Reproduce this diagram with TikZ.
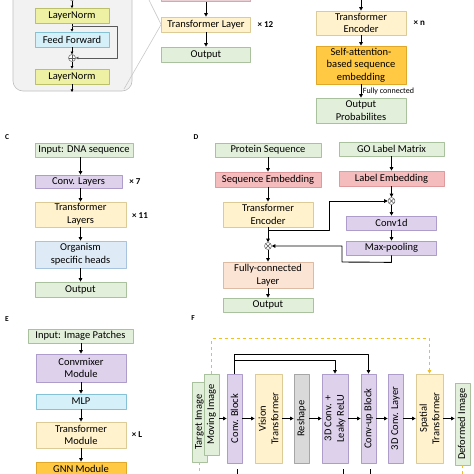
\documentclass[tikz,border=0pt]{standalone}
\usepackage{fontspec}
\setmainfont{Carlito}
\usepackage{tikz}
\usetikzlibrary{arrows.meta,positioning}
\definecolor{nnGreen}{HTML}{E2EFDA}
\definecolor{nnGreenLine}{HTML}{A9C19C}
\definecolor{nnRed}{HTML}{F5BCBD}
\definecolor{nnRedLine}{HTML}{DE9A9C}
\definecolor{nnRose}{HTML}{EAD1D5}
\definecolor{nnRoseLine}{HTML}{D0AAB1}
\definecolor{nnYellow}{HTML}{FFF2CC}
\definecolor{nnYellowLine}{HTML}{DCCB97}
\definecolor{nnOrange}{HTML}{FFC944}
\definecolor{nnOrangeLine}{HTML}{E0A82A}
\definecolor{nnPurple}{HTML}{DDD1EC}
\definecolor{nnPurpleLine}{HTML}{AE9DCB}
\definecolor{nnBlue}{HTML}{DEEBF7}
\definecolor{nnBlueLine}{HTML}{A8C3DE}
\definecolor{nnCyan}{HTML}{D5F0F9}
\definecolor{nnCyanLine}{HTML}{86C2D6}
\definecolor{nnLime}{HTML}{EEF1A3}
\definecolor{nnLimeLine}{HTML}{BCC06A}
\definecolor{nnGrey}{HTML}{D9D9D9}
\definecolor{nnGreyLine}{HTML}{A6A6A6}
\definecolor{nnPeach}{HTML}{FCE4D4}
\definecolor{nnPeachLine}{HTML}{DDBBA2}
\definecolor{nnPanel}{HTML}{F2F2F2}
\definecolor{nnPanelLine}{HTML}{BFBFBF}
\definecolor{nnZoom}{HTML}{C8C8C8}
\definecolor{nnResid}{HTML}{595959}
\definecolor{nnGuide}{HTML}{F0C020}
\tikzset{
  nn diagram/.style={font=\fontsize{10.5}{12.6}\selectfont, text=black,
    line join=round},
  nn box/.style={draw, line width=0.7pt, align=center, inner sep=0pt,
    minimum height=15pt},
  nn tone/.style={nn box, fill=nn#1, draw=nn#1Line},
  nn vbox/.style={rotate=90, minimum width=89pt},
  nn arrow/.style={-{Triangle[length=3.6pt,width=3.6pt]}, line width=0.9pt},
  nn thin arrow/.style={-{Triangle[length=2.6pt,width=2.6pt]}, line width=0.6pt},
  nn guide/.style={-{Triangle[length=3.6pt,width=3.6pt]}, draw=nnGuide,
    dashed, line width=0.9pt},
  nn zoom/.style={draw=nnZoom, line width=0.6pt},
  nn op/.style={circle, draw=nnResid, fill=white, minimum size=7pt,
    inner sep=0pt, line width=0.5pt},
  nn add/.style={nn op, path picture={
    \draw[line width=0.4pt] (path picture bounding box.north) -- (path picture bounding box.south)
      (path picture bounding box.west) -- (path picture bounding box.east);}},
  nn mul/.style={nn op, path picture={
    \draw[line width=0.4pt] (path picture bounding box.north west) -- (path picture bounding box.south east)
      (path picture bounding box.north east) -- (path picture bounding box.south west);}},
  nn times/.style={font=\fontsize{9}{10}\selectfont\bfseries, inner sep=0pt},
  nn panel/.style={font=\fontsize{7.5}{8}\selectfont\bfseries, inner sep=0pt},
  nn note/.style={font=\fontsize{8}{9}\selectfont, inner sep=1.5pt}
}
\begin{document}
\begin{tikzpicture}[nn diagram, x=1pt, y=-1pt]
\useasboundingbox (0,0) rectangle (474,474);
\clip (0,0) rectangle (474,474);

% A: encoder layer detail
\draw[draw=nnPanelLine, fill=nnPanel, line width=0.6pt, rounded corners=10pt]
  (13,-20) rectangle (132,91);
\node[nn add] (addTop) at (72,-3) {};
\node[nn tone=Lime, minimum width=74pt] (normA) at (72,16) {LayerNorm};
\node[nn tone=Cyan, minimum width=74pt] (ffA) at (72,39.5) {Feed Forward};
\node[nn add] (addA) at (72,58) {};
\node[nn tone=Lime, minimum width=74pt] (normB) at (72,76.5) {LayerNorm};
\coordinate (outTop) at (72,92);
\coordinate (splitA) at (72,26.5);
\foreach \a/\b in {addTop/normA, normA/ffA, ffA/addA, addA/normB, normB/outTop}
  \draw[nn thin arrow] (\a) -- (\b);
\draw[nn thin arrow, draw=nnResid] (splitA) -| (117,58) -- (addA.east);

\node[nn tone=Rose, minimum width=89pt] (embA) at (206,-6) {};
\node[nn tone=Yellow, minimum width=89pt] (tfLayer) at (206,24.5) {Transformer Layer};
\node[nn times, right=6.5pt of tfLayer] (repA) {× 12};
\node[nn tone=Green, minimum width=89pt] (outA) at (206,54.5) {Output};
\draw[nn arrow] (embA) -- (tfLayer);
\draw[nn arrow] (tfLayer) -- (outA);
\draw[nn zoom] (144,-10) -- (tfLayer.west);
\draw[nn zoom] (124,89) -- (tfLayer.west);

% B
\coordinate (inB) at (361,-2);
\node[nn tone=Yellow, minimum width=90pt, minimum height=24pt] (tfEncB) at (361,23) {Transformer\\Encoder};
\node[nn times, right=7pt of tfEncB] (repB) {× n};
\node[nn tone=Orange, minimum width=90pt, minimum height=38pt] (saEmb) at (361,65) {Self-attention-\\based sequence\\embedding};
\node[nn tone=Green, minimum width=90pt, minimum height=25pt] (outProb) at (361,110.5) {Output\\Probabilites};
\draw[nn arrow] (inB) -- (tfEncB);
\draw[nn arrow] (tfEncB) -- (saEmb);
\draw[nn arrow] (saEmb) -- node[nn note, right] {Fully connected} (outProb);

% C
\node[nn panel] (labC) at (7,137) {C};
\node[nn tone=Green, minimum width=98pt, minimum height=14pt] (inDNA) at (84,150) {Input: DNA sequence};
\node[nn tone=Purple, minimum width=87pt, minimum height=13pt] (convC) at (78.5,181.5) {Conv. Layers};
\node[nn times] (repC1) at (135,182) {× 7};
\node[nn tone=Yellow, minimum width=91pt, minimum height=25pt] (tfC) at (80.5,214.5) {Transformer\\Layers};
\node[nn times] (repC2) at (140,216) {× 11};
\node[nn tone=Blue, minimum width=91pt, minimum height=27pt] (orgC) at (80.5,254.5) {Organism\\specific heads};
\node[nn tone=Green, minimum width=91pt] (outC) at (80.5,289.5) {Output};
\foreach \a/\b in {inDNA/convC, convC/tfC, tfC/orgC, orgC/outC}
  \draw[nn arrow] (\a.south -| tfC) -- (\b.north -| tfC);

% D
\node[nn panel] (labD) at (196,137) {D};
\node[nn tone=Green, minimum width=106pt, minimum height=14pt] (protSeq) at (268,150) {Protein Sequence};
\node[nn tone=Red, minimum width=106pt] (seqEmb) at (268,179.5) {Sequence Embedding};
\node[nn tone=Yellow, minimum width=90pt, minimum height=25pt] (tfEncD) at (268,214.5) {Transformer\\Encoder};
\node[nn mul] (mulL) at (268,246) {};
\node[nn tone=Peach, minimum width=90pt, minimum height=26pt] (fcD) at (268,275) {Fully-connected\\Layer};
\node[nn tone=Green, minimum width=90pt, minimum height=14pt] (outD) at (268,305) {Output};
\node[nn tone=Green, minimum width=105pt, minimum height=14pt] (goMat) at (391.5,149) {GO Label Matrix};
\node[nn tone=Red, minimum width=105pt] (labEmb) at (391.5,178.5) {Label Embedding};
\node[nn mul] (mulR) at (391.5,201) {};
\node[nn tone=Purple, minimum width=90pt, minimum height=14pt] (conv1d) at (391.5,223) {Conv1d};
\node[nn tone=Purple, minimum width=90pt, minimum height=14pt] (maxPool) at (391.5,248) {Max-pooling};
\coordinate (splitD) at (268,230);
\foreach \a/\b in {protSeq/seqEmb, seqEmb/tfEncD, tfEncD/mulL, mulL/fcD, fcD/outD,
    goMat/labEmb, labEmb/mulR, mulR/conv1d, conv1d/maxPool}
  \draw[nn arrow] (\a) -- (\b);
\draw[nn arrow] (splitD) -- ++(61,0) |- (mulR.west);
\draw[nn arrow] (maxPool.south) -- ++(0,7) -- (342,262) |- (mulL.east);

% E
\node[nn panel] (labE) at (7,319) {E};
\node[nn tone=Green, minimum width=105pt, minimum height=14pt] (inImg) at (80.5,336) {Input: Image Patches};
\node[nn tone=Purple, minimum width=90pt, minimum height=28pt] (convMix) at (81,368) {Convmixer\\Module};
\node[nn tone=Cyan, minimum width=90pt] (mlpE) at (81,401.5) {MLP};
\node[nn tone=Yellow, minimum width=90pt, minimum height=26pt] (tfMod) at (81,435) {Transformer\\Module};
\node[nn times] (repE) at (137,435) {× L};
\node[nn tone=Orange, minimum width=90pt, minimum height=13pt] (gnnE) at (81,468.5) {GNN Module};
\foreach \a/\b in {inImg/convMix, convMix/mlpE, mlpE/tfMod, tfMod/gnnE}
  \draw[nn arrow] (\a.south -| convMix) -- (\b.north -| convMix);

% F
\node[nn panel] (labF) at (193,318) {F};
\node[nn tone=Green, nn vbox, minimum width=80pt] (tgtImg) at (199.5,422) {Target Image};
\node[nn tone=Green, nn vbox, minimum width=81pt] (movImg) at (211.5,414.5) {Moving Image};
\foreach \name/\x/\w/\col/\txt in {convBlk/234.5/15/Purple/{Conv. Block},
    visTr/268.5/27/Yellow/{Vision\\Transformer}, reshape/301.5/15/Grey/{Reshape},
    conv3d/335/26/Purple/{3D Conv. +\\Leaky ReLU}, convUp/368.5/15/Purple/{Conv-up Block},
    conv3dL/395.5/15/Purple/{3D Conv. Layer}, spTr/429.5/27/Yellow/{Spatial\\Transformer}}
  \node[nn tone=\col, nn vbox, minimum height=\w] (\name) at (\x,418.5) {\txt};
\node[nn tone=Green, nn vbox, minimum width=82pt] (defImg) at (462.5,424) {Deformed Image};
\foreach \a/\b in {movImg/convBlk, convBlk/visTr, visTr/reshape, reshape/conv3d,
    conv3d/convUp, convUp/conv3dL, conv3dL/spTr, spTr/defImg}
  \draw[nn arrow] (\a.south |- convBlk.center) -- (\b.north |- convBlk.center);
\coordinate (skipIn) at (234.5,360);
\draw[nn arrow] (convBlk.east) -- ++(0,-19) -| (convUp.east);
\draw[nn arrow] (skipIn) -| (conv3d.east);
\draw[nn guide] (movImg.east) -- ++(0,-35) -| (spTr.east);
\draw[nn guide, -] (tgtImg.west) -- ++(0,14);
\draw[nn guide, -] (defImg.west) -- ++(0,12);
\foreach \x in {237,343,370}
  \draw[line width=0.9pt] (\x,469) -- (\x,476);
\end{tikzpicture}
\end{document}
